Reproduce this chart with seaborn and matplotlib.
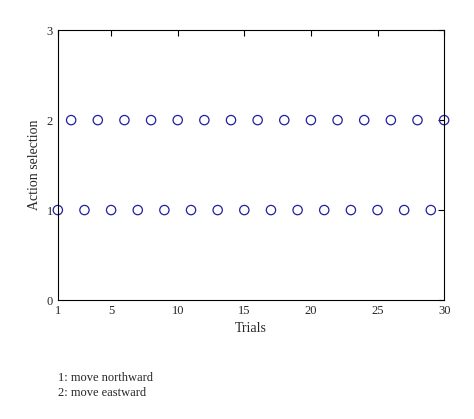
import matplotlib
matplotlib.use("Agg")
import matplotlib.pyplot as plt
import seaborn as sns
import pandas as pd

trials = list(range(1, 31))
actions = [1 if t % 2 == 1 else 2 for t in trials]
xticks = [1, 5, 10, 15, 20, 25, 30]
yticks = [0, 1, 2, 3]
legend_lines = ["1: move northward", "2: move eastward"]

sns.set_style("white")
plt.rcParams['font.family'] = ['Liberation Serif', 'DejaVu Serif']

df = pd.DataFrame({"Trials": trials, "Action": actions})
fig = plt.figure(figsize=(4.74, 4.19), dpi=100)
ax = fig.add_axes([0.122, 0.284, 0.815, 0.644])
sns.scatterplot(data=df, x="Trials", y="Action", ax=ax, marker="o",
                facecolors="none", edgecolor="#2020a0", linewidth=0.9, s=45, clip_on=False)
ax.set_xlim(1, 30)
ax.set_ylim(0, 3)
ax.set_xticks(xticks)
ax.set_yticks(yticks)
ax.set_xlabel("Trials", fontsize=10)
ax.set_ylabel("Action selection", fontsize=10)
ax.tick_params(direction="in", length=4, labelsize=9, top=True, right=True, color="black")
for s in ax.spines.values():
    s.set_color("black"); s.set_linewidth(0.8)
fig.text(58/474, 1-378/419, legend_lines[0], fontsize=9, va="center")
fig.text(58/474, 1-393/419, legend_lines[1], fontsize=9, va="center")
fig.savefig("out.png", dpi=100)
